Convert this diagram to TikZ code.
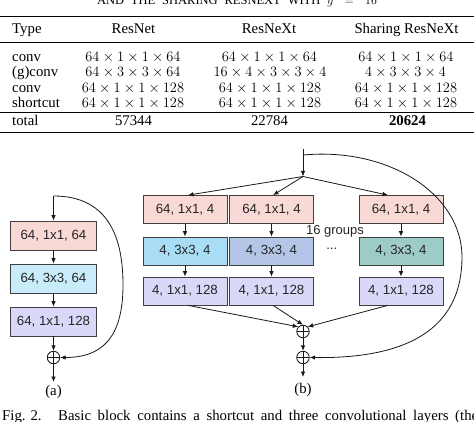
\documentclass[tikz,border=0pt]{standalone}
\usepackage{fontspec}
\setmainfont{Liberation Serif}
\newfontfamily\boxfont{Liberation Sans}
\usetikzlibrary{arrows.meta,calc}
\definecolor{pinkc}{HTML}{F9D9D6}
\definecolor{bluea}{HTML}{C8ECFA}
\definecolor{blueb}{HTML}{A9DDF6}
\definecolor{steelb}{HTML}{B4C6E8}
\definecolor{tealb}{HTML}{9DCBC6}
\definecolor{lav}{HTML}{DAD8F8}
\tikzset{
  tx/.style={anchor=base, inner sep=0, font=\fontsize{14.8}{16}\selectfont},
  txl/.style={tx, anchor=base west},
  mx/.style={anchor=base, inner sep=0, font=\fontsize{15.5}{16}\selectfont},
  rulethin/.style={line width=0.8pt},
  blk/.style={draw=black!75, line width=0.7pt, inner sep=0, text=black!85,
    font=\boxfont\fontsize{13.3}{14}\selectfont},
  blka/.style={blk, minimum width=86pt, minimum height=29pt},
  blkb/.style={blk, minimum width=84pt, minimum height=28pt},
  arr/.style={-{Latex[length=5.5pt,width=4.5pt]}, line width=0.8pt, black!90},
  plusnode/.style={circle, draw=black!90, line width=0.8pt, minimum size=12.5pt, inner sep=0,
    path picture={\draw[line width=0.8pt,black!90] (path picture bounding box.north) -- (path picture bounding box.south)
      (path picture bounding box.west) -- (path picture bounding box.east);}},
  lbl/.style={inner sep=0, font=\fontsize{14.8}{16}\selectfont},
  sans/.style={inner sep=0, font=\boxfont\fontsize{13}{14}\selectfont, text=black!85}
}
\begin{document}
\begin{tikzpicture}[x=1pt,y=-1pt]
\useasboundingbox (0,0) rectangle (474,422);
\fill[white] (0,0) rectangle (474,422);
% ---- table caption (cut at top edge) ----
\node[anchor=base, inner sep=0, font=\fontsize{12.5}{13}\selectfont] (tcap) at (237,4.5)
  {\makebox[280pt][s]{AND THE SHARING RESNEXT WITH $g = 16$}};
% rules
\draw[line width=1.3pt] (0,16.5) -- (474,16.5);
\draw[rulethin] (0,42.5) -- (474,42.5);
\draw[rulethin] (0,112) -- (474,112);
\draw[line width=1.7pt] (0,132.5) -- (474,132.5);
% header
\node[txl] (h1) at (12,34) {Type};
\node[tx] (h2) at (133.5,34) {ResNet};
\node[tx] (h3) at (269,34) {ResNeXt};
\node[tx] (h4) at (406.5,34) {Sharing ResNeXt};
% rows
\node[txl] (r1a) at (12,61.5) {conv};
\node[mx] (r1b) at (133,61.5) {$64\times1\times1\times64$};
\node[mx] (r1c) at (269.5,61.5) {$64\times1\times1\times64$};
\node[mx] (r1d) at (406,61.5) {$64\times1\times1\times64$};
\node[txl] (r2a) at (12,77) {(g)conv};
\node[mx] (r2b) at (133,77) {$64\times3\times3\times64$};
\node[mx] (r2c) at (270,77) {$16\times4\times3\times3\times4$};
\node[mx] (r2d) at (405.5,77) {$4\times3\times3\times4$};
\node[txl] (r3a) at (12,92.5) {conv};
\node[mx] (r3b) at (133,92.5) {$64\times1\times1\times128$};
\node[mx] (r3c) at (270,92.5) {$64\times1\times1\times128$};
\node[mx] (r3d) at (406,92.5) {$64\times1\times1\times128$};
\node[txl] (r4a) at (12,108) {shortcut};
\node[mx] (r4b) at (133,108) {$64\times1\times1\times128$};
\node[mx] (r4c) at (270,108) {$64\times1\times1\times128$};
\node[mx] (r4d) at (406,108) {$64\times1\times1\times128$};
\node[txl] (r5a) at (12,125.5) {total};
\node[tx] (r5b) at (133.5,125.5) {57344};
\node[tx] (r5c) at (269.5,125.5) {22784};
\node[tx] (r5d) at (407.5,125.5) {\textbf{20624}};
% ---- (a) ----
\coordinate (ain) at (53.5,196);
\node[blka, fill=pinkc] (a1) at (53.5,235.5) {64, 1x1, 64};
\node[blka, fill=bluea] (a2) at (53.5,278.5) {64, 3x3, 64};
\node[blka, fill=lav] (a3) at (53.5,321.5) {64, 1x1, 128};
\node[plusnode] (pa) at (53.5,357.5) {};
\coordinate (aout) at (53.5,382);
\draw[arr] (ain) -- (a1.north);
\draw[arr] (a1.south) -- (a2.north);
\draw[arr] (a2.south) -- (a3.north);
\draw[arr] (a3.south) -- (pa.north);
\draw[arr] (pa.south) -- (aout);
\draw[arr] (ain) .. controls (110,196) and (123,240) .. (123,285)
  .. controls (123,340) and (100,357.5) .. (pa.east);
\node[lbl] (la) at (53.5,391.5) {(a)};
% ---- (b) ----
\coordinate (bin) at (303,149);
\coordinate (bcurve) at (303,155);
\coordinate (bsplit) at (303,176.5);
\node[blkb, fill=pinkc] (c1r1) at (185,209.5) {64, 1x1, 4};
\node[blkb, fill=pinkc] (c2r1) at (271.5,209.5) {64, 1x1, 4};
\node[blkb, fill=pinkc] (c3r1) at (401,209.5) {64, 1x1, 4};
\node[blkb, fill=blueb] (c1r2) at (185,251) {4, 3x3, 4};
\node[blkb, fill=steelb] (c2r2) at (271.5,251) {4, 3x3, 4};
\node[blkb, fill=tealb] (c3r2) at (401,251) {4, 3x3, 4};
\node[blkb, fill=lav] (c1r3) at (185,291) {4, 1x1, 128};
\node[blkb, fill=lav] (c2r3) at (271.5,291) {4, 1x1, 128};
\node[blkb, fill=lav] (c3r3) at (401,291) {4, 1x1, 128};
\node[sans] (grp) at (335,231.5) {16 groups};
\node[sans] (dots) at (331.7,249) {...};
\node[plusnode] (p1) at (303,331.5) {};
\node[plusnode] (p2) at (303,357.5) {};
\coordinate (bout) at (303,377);
\draw[arr] (bin) -- (bsplit);
\draw[arr] (bsplit) -- ([xshift=3pt]c1r1.north);
\draw[arr] (bsplit) -- ([xshift=1.5pt]c2r1.north);
\draw[arr] (bsplit) -- ([xshift=-13pt]c3r1.north);
\foreach \c in {c1,c2,c3}{
  \draw[arr] (\c r1.south) -- (\c r2.north);
  \draw[arr] (\c r2.south) -- (\c r3.north);
}
\draw[arr] ([xshift=3pt]c1r3.south) -- (p1.north west);
\draw[arr] ([xshift=1.5pt]c2r3.south) -- (p1.north);
\draw[arr] ([xshift=-13pt]c3r3.south) -- (p1.north east);
\draw[arr] (p1.south) -- (p2.north);
\draw[arr] (p2.south) -- (bout);
\draw[arr] (bcurve) .. controls (390,147) and (462,195) .. (462,257)
  .. controls (462,320) and (420,359) .. (p2.east);
\node[lbl] (lb) at (303,389.5) {(b)};
% ---- figure caption (cut at bottom edge) ----
\node[anchor=base west, inner sep=0, font=\fontsize{14.8}{16}\selectfont] (fig) at (2,420.5) {Fig. 2.};
\node[anchor=base west, inner sep=0, font=\fontsize{14.8}{16}\selectfont] (figtxt) at (58,420.5)
  {\makebox[420pt][s]{Basic block contains a shortcut and three convolutional layers (the}};
\end{tikzpicture}
\end{document}
